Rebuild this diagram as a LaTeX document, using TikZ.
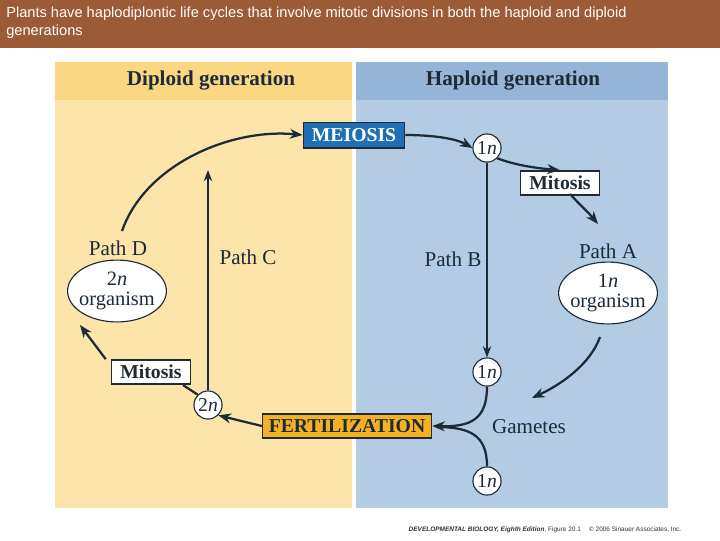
\documentclass[tikz,border=0pt]{standalone}
\usepackage{fontspec}
\setmainfont{Liberation Serif}
\newfontfamily\arialf{Liberation Sans}
\usetikzlibrary{arrows.meta,shapes.geometric}
\definecolor{banner}{HTML}{9A5B36}
\definecolor{ylw}{HTML}{FDE4AA}
\definecolor{ylwh}{HTML}{FBD784}
\definecolor{blu}{HTML}{B3CCE3}
\definecolor{bluh}{HTML}{94B5D8}
\definecolor{meio}{HTML}{1E6FB5}
\definecolor{fert}{HTML}{F4B223}
\definecolor{ink}{HTML}{1E2A36}
\begin{document}
\begin{tikzpicture}[x=0.025cm,y=-0.025cm,
  lbl/.style={font=\fontsize{15}{16}\selectfont, text=ink},
  hdr/.style={font=\fontsize{15}{16}\selectfont\bfseries, text=ink},
  circ/.style={circle, draw=ink, fill=white, thick, inner sep=0.5pt, minimum size=20pt, font=\fontsize{14}{14}\selectfont, text=ink},
  org/.style={ellipse, draw=ink, fill=white, thick, minimum width=66pt, minimum height=44pt, inner sep=-2pt, align=center, font=\fontsize{14.5}{14}\selectfont, text=ink},
  box/.style={draw=ink, line width=1.2pt, inner sep=2pt, font=\fontsize{14}{14}\selectfont\bfseries},
  arr/.style={-{Stealth[length=9pt,width=7pt]}, line width=1.6pt, draw=ink},
  ln/.style={line width=1pt, draw=ink}]
\useasboundingbox (0,0) rectangle (720,540);
\fill[white] (0,0) rectangle (720,540);
\fill[banner] (0,0) rectangle (720,48);
\node[anchor=west, text=white, font=\arialf\fontsize{10.4}{12}\selectfont, inner sep=0] (t1) at (6,14) {Plants have haplodiplontic life cycles that involve mitotic divisions in both the haploid and diploid};
\node[anchor=west, text=white, font=\arialf\fontsize{10.4}{12}\selectfont, inner sep=0] (t2) at (6,32) {generations};
\fill[ylw] (55,62) rectangle (352,508);
\fill[ylwh] (55,62) rectangle (352,100);
\fill[blu] (356,62) rectangle (668,508);
\fill[bluh] (356,62) rectangle (668,100);
\node[hdr] (hd) at (211,81) {Diploid generation};
\node[hdr] (hh) at (513,81) {Haploid generation};
\node[box, fill=meio, text=white, minimum width=72pt, minimum height=18pt] (meiosis) at (354,135) {MEIOSIS};
\node[circ] (n1) at (487,148) {1\textit{n}};
\node[box, fill=white, text=ink, minimum width=56pt, minimum height=17pt] (mitR) at (560,183) {Mitosis};
\node[lbl] (pa) at (608,251) {Path A};
\node[org] (org1) at (608,293) {1\textit{n}\\organism};
\node[lbl] (pb) at (453,259) {Path B};
\node[circ] (n2) at (487,372) {1\textit{n}};
\node[circ] (n3) at (487,481) {1\textit{n}};
\node[lbl] (gam) at (529,427) {Gametes};
\node[box, fill=fert, text=ink, minimum width=120pt, minimum height=17pt] (fert) at (347,426) {FERTILIZATION};
\node[circ] (d2) at (208,405) {2\textit{n}};
\node[box, fill=white, text=ink, minimum width=56pt, minimum height=17pt] (mitL) at (151,372) {Mitosis};
\node[lbl] (pd) at (118,248) {Path D};
\node[org] (org2) at (117,291) {2\textit{n}\\organism};
\node[lbl] (pc) at (248,257) {Path C};
\node[font=\arialf\fontsize{4.6}{5}\selectfont, text=black!80] (cr) at (545,530) {\textbf{\textit{DEVELOPMENTAL BIOLOGY, Eighth Edition}}, Figure 20.1 \quad\copyright\ 2006 Sinauer Associates, Inc.};
% arrows
\draw[arr] (122,231) .. controls (145,165) and (230,128) .. (meiosis.west);
\draw[arr] (meiosis.east) .. controls (430,135) and (455,138) .. (n1.west);
\draw[arr] (n1.south east) .. controls (515,165) and (535,168) .. (mitR.north);
\draw[arr] (570,194) .. controls (580,205) and (588,212) .. (598,224);
\draw[arr] (600,337) .. controls (590,365) and (560,385) .. (532,398);
\draw[-{Stealth[length=8pt,width=6pt]}, line width=1pt, draw=ink] (n1.south) -- (n2.north);
\draw[arr] (n2.south) .. controls (487,420) and (470,427) .. (fert.east);
\draw[line width=1.6pt, draw=ink] (n3.north) .. controls (487,435) and (470,427) .. (436,427);
\draw[arr] (fert.west) -- (d2.south east);
\draw[line width=1.6pt, draw=ink] (d2.north west) -- (183,385);
\draw[arr] (mitL.north west) ++(-5,0) -- (80,325);
\draw[-{Stealth[length=8pt,width=6pt]}, line width=1pt, draw=ink] (d2.north) -- (208,170);
\end{tikzpicture}
\end{document}
